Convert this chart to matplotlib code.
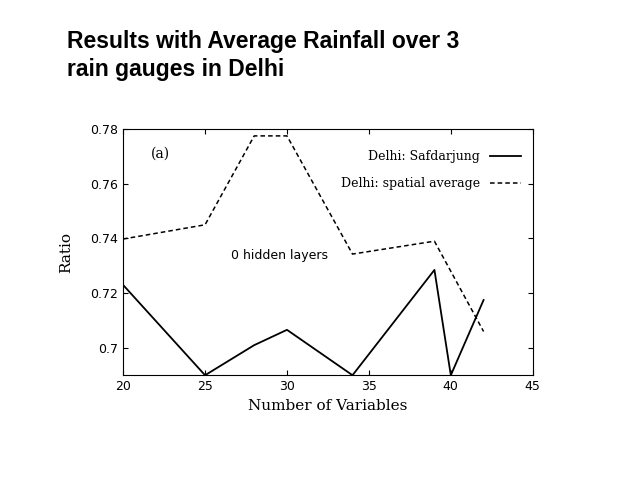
import matplotlib
matplotlib.use("Agg")
import matplotlib.pyplot as plt

x_vals = [20, 25, 28, 30, 34, 39, 40, 42]
safdarjung = [0.723, 0.690, 0.701, 0.7066, 0.690, 0.7285, 0.690, 0.7175]
x_avg = [20, 25, 28, 30, 34, 39, 42]
spatial_avg = [0.7398, 0.745, 0.7775, 0.7775, 0.7343, 0.739, 0.706]
xticks = [20, 25, 30, 35, 40, 45]
yticks = [0.70, 0.72, 0.74, 0.76, 0.78]
yticklabels = ["0.7", "0.72", "0.74", "0.76", "0.78"]

fig = plt.figure(figsize=(6.38, 4.78), dpi=100)
fig.text(0.105, 0.884, "Results with Average Rainfall over 3\nrain gauges in Delhi",
         fontsize=16.5, fontweight="bold", family="Liberation Sans", va="center", linespacing=1.25)
ax = fig.add_axes([0.193, 0.215, 0.642, 0.515])
ax.plot(x_vals, safdarjung, color="black", lw=1.3, label="Delhi: Safdarjung")
ax.plot(x_avg, spatial_avg, color="black", lw=1.1, ls=(0, (3, 2)), label="Delhi: spatial average")
ax.set_xlim(20, 45)
ax.set_ylim(0.69, 0.78)
ax.set_xticks(xticks)
ax.set_yticks(yticks)
ax.set_yticklabels(yticklabels)
ax.tick_params(direction="in", top=True, right=True, labelsize=9)
for lab in ax.get_xticklabels() + ax.get_yticklabels():
    lab.set_family("DejaVu Sans")
ax.set_xlabel("Number of Variables", family="DejaVu Serif", fontsize=11)
ax.set_ylabel("Ratio", family="DejaVu Serif", fontsize=11, labelpad=12)
ax.text(21.7, 0.7695, "(a)", family="DejaVu Serif", fontsize=10)
ax.text(26.6, 0.7325, "0 hidden layers", fontsize=9)
leg = ax.legend(loc="upper right", frameon=False, prop={"family": "DejaVu Serif", "size": 9},
                markerfirst=False, handlelength=2.5, labelspacing=1.1,
                bbox_to_anchor=(1.0, 0.96))
fig.savefig("out.png", dpi=100)
